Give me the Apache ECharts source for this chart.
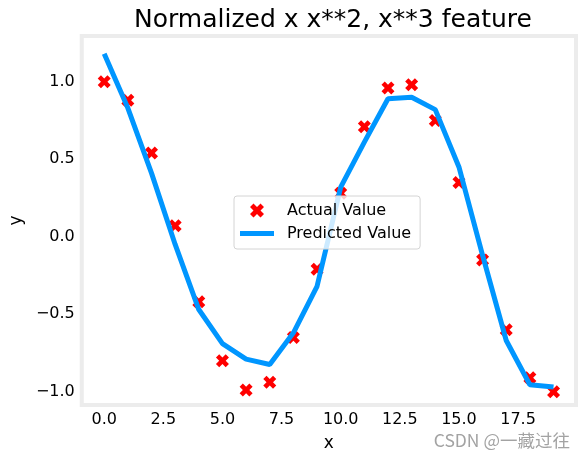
<!DOCTYPE html>
<html>
<head>
<meta charset="utf-8">
<script src="https://cdn.jsdelivr.net/npm/echarts@6/dist/echarts.min.js"></script>
<style>
html,body{margin:0;padding:0;background:#fff;}
#chart{width:586px;height:461px;}
</style>
</head>
<body>
<div id="chart"></div>
<script>
var xValues = [0, 1, 2, 3, 4, 5, 6, 7, 8, 9, 10, 11, 12, 13, 14, 15, 16, 17, 18, 19];
var actualValues = [1.00, 0.88, 0.54, 0.07, -0.42, -0.80, -0.99, -0.94, -0.65, -0.21, 0.28, 0.71, 0.96, 0.98, 0.75, 0.35, -0.15, -0.60, -0.91, -1.00];
var predictedValues = [1.18, 0.83, 0.41, -0.05, -0.47, -0.69, -0.79, -0.825, -0.62, -0.32, 0.32, 0.61, 0.89, 0.90, 0.82, 0.45, -0.12, -0.67, -0.955, -0.97];
var xTickValues = [0, 2.5, 5, 7.5, 10, 12.5, 15, 17.5];
var yTickValues = [-1, -0.5, 0, 0.5, 1];

var XMARK = 'path://M2.5,0 L5,2.5 L7.5,0 L10,2.5 L7.5,5 L10,7.5 L7.5,10 L5,7.5 L2.5,10 L0,7.5 L2.5,5 L0,2.5 Z';
var LINEMARK = 'path://M0,0 L34,0 L34,5 L0,5 Z';
function fmt(v){ return Number(v).toFixed(1).replace('-', '\u2212'); }

var chart = echarts.init(document.getElementById('chart'), null, {renderer:'canvas'});
var font = '"DejaVu Sans", sans-serif';
chart.setOption({
  animation: false,
  backgroundColor: '#ffffff',
  title: {
    text: 'Normalized x x**2, x**3 feature',
    left: 328, top: 3, textAlign: 'center',
    textStyle: {fontFamily: font, fontSize: 25, fontWeight: 'normal', color: '#000'}
  },
  graphic: [{
    type: 'text', right: 16, top: 432,
    style: {text: 'CSDN @一藏过往', fill: '#a3a3a3', font: '17.5px "Noto Sans CJK SC"'}
  }],
  legend: {
    orient: 'vertical', left: 234, top: 196,
    padding: [5, 9, 6, 6], itemGap: 4, itemWidth: 34, itemHeight: 14,
    backgroundColor: 'rgba(255,255,255,0.8)', borderColor: '#d4d4d4', borderWidth: 1, borderRadius: 3,
    textStyle: {fontFamily: font, fontSize: 16, color: '#000', lineHeight: 19, padding: [0,0,0,8]},
    data: [
      {name: 'Actual Value', icon: XMARK, itemStyle: {color: '#ff0000', opacity: 1}},
      {name: 'Predicted Value', icon: LINEMARK, itemStyle: {color: '#0096ff'}}
    ]
  },
  grid: {
    left: 80, right: 10, top: 36, bottom: 56, show: true,
    borderColor: '#ececec', borderWidth: 4, backgroundColor: '#ffffff'
  },
  xAxis: {
    type: 'value', min: -0.95, max: 19.95,
    name: 'x', nameLocation: 'middle', nameGap: 30,
    nameTextStyle: {fontFamily: font, fontSize: 17, color: '#000'},
    axisLine: {show: false}, axisTick: {show: false}, splitLine: {show: false},
    axisLabel: {customValues: xTickValues, formatter: fmt, fontFamily: font, fontSize: 16, color: '#000', margin: 7}
  },
  yAxis: {
    type: 'value', min: -1.086, max: 1.295,
    name: 'y', nameLocation: 'middle', nameGap: 54, nameRotate: 90,
    nameTextStyle: {fontFamily: font, fontSize: 17, color: '#000'},
    axisLine: {show: false}, axisTick: {show: false}, splitLine: {show: false},
    axisLabel: {customValues: yTickValues, formatter: fmt, fontFamily: font, fontSize: 16, color: '#000', margin: 7}
  },
  series: [{
    name: 'Actual Value', type: 'scatter', symbol: XMARK, symbolSize: 13,
    itemStyle: {color: '#ff0000', opacity: 1},
    data: xValues.map(function(x, i){ return [x, actualValues[i]]; })
  }, {
    name: 'Predicted Value', type: 'line', symbol: 'none', showSymbol: false,
    lineStyle: {color: '#0096ff', width: 5}, itemStyle: {color: '#0096ff'},
    data: xValues.map(function(x, i){ return [x, predictedValues[i]]; })
  }]
});
</script>
</body>
</html>
